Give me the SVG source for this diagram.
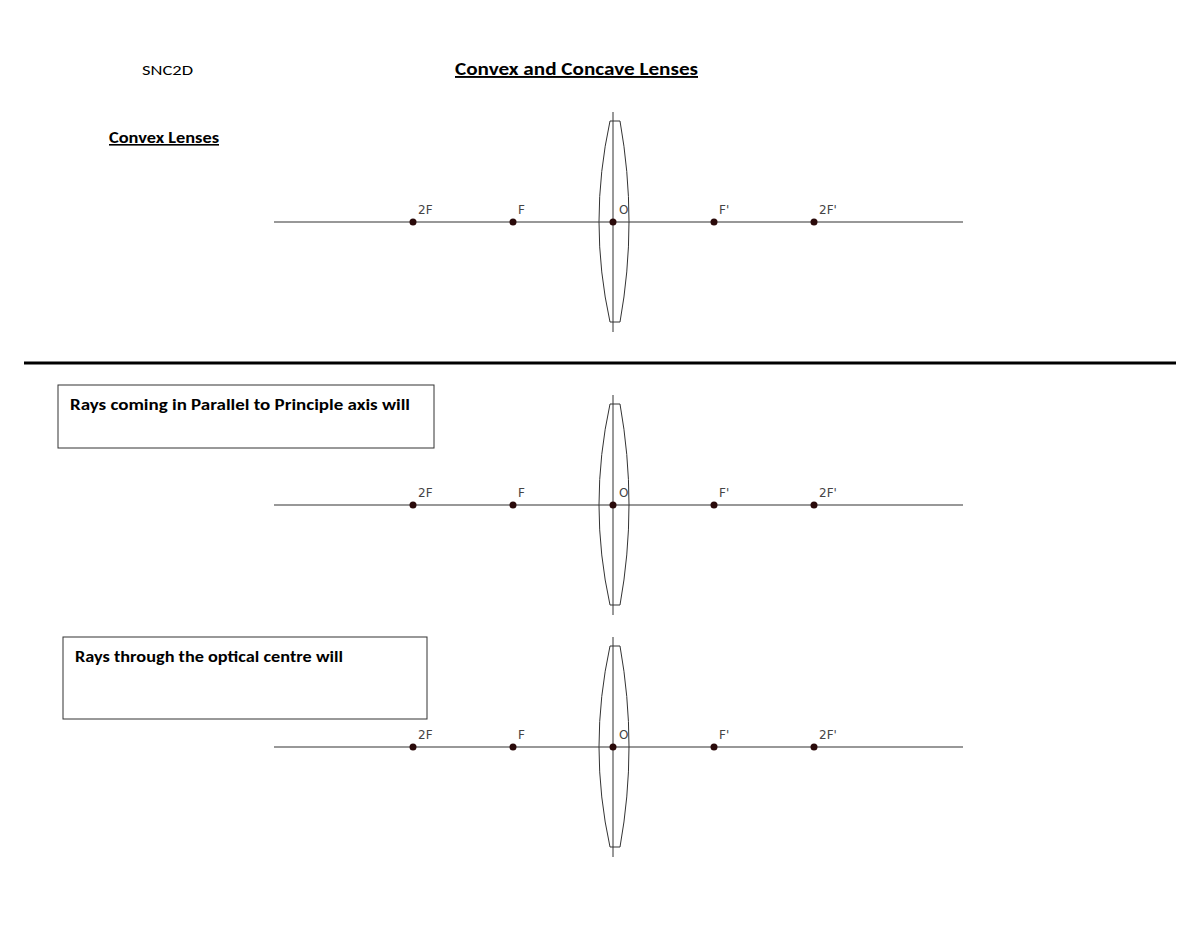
<svg xmlns="http://www.w3.org/2000/svg" xmlns:xlink="http://www.w3.org/1999/xlink" width="1200" height="927" viewBox="0 0 1200 927">
<style>
.t{font-family:Calibri,"Liberation Sans",Carlito,sans-serif;fill:#000}
.lbl{font-family:"DejaVu Sans",sans-serif;font-size:12px;fill:#444}
.ax{stroke:#333;stroke-width:1.2;fill:none}
.ln{stroke:#333;stroke-width:1;fill:none}
.dot{fill:#2a0a0a}
.box{fill:#fff;stroke:#333;stroke-width:1}
</style>
<defs>
<g id="diagram">
<line class="ax" x1="274" y1="222" x2="963" y2="222"/>
<path class="ln" d="M610,121 L620,121 Q638,222 620,322 L610,322 Q588,222 610,121 Z"/>
<line class="ln" x1="613" y1="112" x2="613" y2="332"/>
<circle class="dot" cx="413" cy="222" r="3.5"/>
<circle class="dot" cx="513" cy="222" r="3.5"/>
<circle class="dot" cx="613" cy="222" r="3.5"/>
<circle class="dot" cx="714" cy="222" r="3.5"/>
<circle class="dot" cx="814" cy="222" r="3.5"/>
<text class="lbl" x="418" y="214">2F</text>
<text class="lbl" x="518" y="214">F</text>
<text class="lbl" x="619" y="214">O</text>
<text class="lbl" x="719" y="214">F'</text>
<text class="lbl" x="819" y="214">2F'</text>
</g>
</defs>
<rect width="1200" height="927" fill="#fff"/>
<text class="t" x="142" y="75" font-size="15" textLength="51" lengthAdjust="spacingAndGlyphs">SNC2D</text>
<text class="t" x="455" y="75" font-size="19" font-weight="bold" text-decoration="underline" textLength="243" lengthAdjust="spacingAndGlyphs">Convex and Concave Lenses</text>
<text class="t" x="109" y="143" font-size="16" font-weight="bold" text-decoration="underline" textLength="110" lengthAdjust="spacingAndGlyphs">Convex Lenses</text>
<g id="lens1"><use xlink:href="#diagram"/></g>
<line x1="24" y1="363" x2="1176" y2="363" stroke="#000" stroke-width="3"/>
<g id="box1"><rect class="box" x="58" y="385" width="376" height="63"/>
<text class="t" x="70" y="410" font-size="16" font-weight="bold" textLength="340" lengthAdjust="spacingAndGlyphs">Rays coming in Parallel to Principle axis will</text></g>
<g id="lens2"><use xlink:href="#diagram" transform="translate(0,283)"/></g>
<g id="box2"><rect class="box" x="63" y="637" width="364" height="82"/>
<text class="t" x="75" y="662" font-size="16" font-weight="bold" textLength="268" lengthAdjust="spacingAndGlyphs">Rays through the optical centre will</text></g>
<g id="lens3"><use xlink:href="#diagram" transform="translate(0,525)"/></g>
<g id="connectors"/>
</svg>
